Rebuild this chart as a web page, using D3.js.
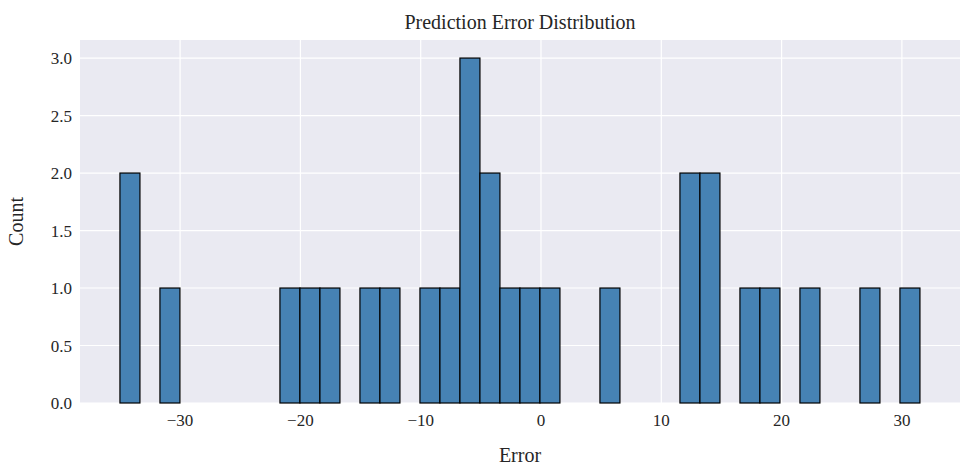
<!DOCTYPE html>
<html><head><meta charset="utf-8">
<script src="https://cdn.jsdelivr.net/npm/d3@7"></script>
<style>body{margin:0;background:#fff;font-family:"Liberation Serif","DejaVu Serif",serif;}</style>
</head><body><svg id="c" width="965" height="470"></svg>
<script>
const binMin = -35.0, binMax = 31.5;
const counts = [2,0,1,0,0,0,0,0,1,1,1,0,1,1,0,1,1,3,2,1,1,1,0,0,1,0,0,0,2,2,0,1,1,0,1,0,0,1,0,1];
const xTicks = [-30,-20,-10,0,10,20,30];
const yTicks = [0,0.5,1,1.5,2,2.5,3];

const svg = d3.select("#c");
const L=80,R=960,T=40,B=403;
const x = d3.scaleLinear().domain([-38.32,34.83]).range([L,R]);
const y = d3.scaleLinear().domain([0,3.157]).range([B,T]);
svg.append("rect").attr("x",L).attr("y",T).attr("width",R-L).attr("height",B-T).attr("fill","#EAEAF2");
svg.append("g").selectAll("line").data(xTicks).join("line")
 .attr("x1",d=>x(d)).attr("x2",d=>x(d)).attr("y1",T).attr("y2",B).attr("stroke","#fff").attr("stroke-width",1.2);
svg.append("g").selectAll("line").data(yTicks).join("line")
 .attr("y1",d=>y(d)).attr("y2",d=>y(d)).attr("x1",L).attr("x2",R).attr("stroke","#fff").attr("stroke-width",1.2);
const w=(binMax-binMin)/counts.length;
svg.append("g").selectAll("rect").data(counts.map((c,i)=>({c,i})).filter(d=>d.c>0)).join("rect")
 .attr("x",d=>x(binMin+d.i*w)).attr("width",d=>x(binMin+(d.i+1)*w)-x(binMin+d.i*w))
 .attr("y",d=>y(d.c)).attr("height",d=>y(0)-y(d.c))
 .attr("fill","#4682B4").attr("stroke","#000").attr("stroke-width",1.2);
const fmtX=d=>d<0?"\u2212"+Math.abs(d):String(d);
svg.append("g").selectAll("text").data(xTicks).join("text")
 .attr("x",d=>x(d)).attr("y",B+23).attr("text-anchor","middle").attr("font-size",17).attr("fill","#262626").text(fmtX);
svg.append("g").selectAll("text").data(yTicks).join("text")
 .attr("x",L-8).attr("y",d=>y(d)+6).attr("text-anchor","end").attr("font-size",17).attr("fill","#262626").text(d=>d.toFixed(1));
svg.append("text").attr("x",(L+R)/2).attr("y",462).attr("text-anchor","middle").attr("font-size",20).attr("fill","#262626").text("Error");
svg.append("text").attr("transform",`translate(23,${(T+B)/2}) rotate(-90)`).attr("text-anchor","middle").attr("font-size",20).attr("fill","#262626").text("Count");
svg.append("text").attr("x",(L+R)/2).attr("y",29).attr("text-anchor","middle").attr("font-size",20).attr("fill","#262626").text("Prediction Error Distribution");
</script></body></html>
